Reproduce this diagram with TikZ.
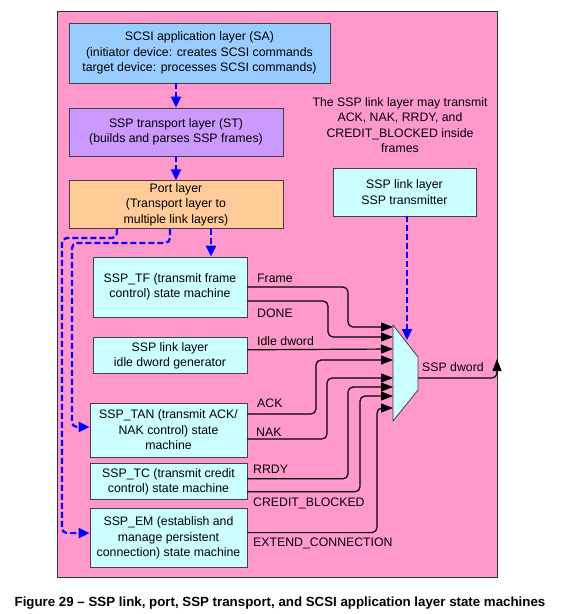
\documentclass[tikz,border=0pt]{standalone}
\usepackage{fontspec}
\setmainfont{Liberation Sans}
\usetikzlibrary{positioning,arrows.meta}
\definecolor{panelpink}{HTML}{FF99CC}
\definecolor{saBlue}{HTML}{99CCFF}
\definecolor{stPurple}{HTML}{CC99FF}
\definecolor{portOrange}{HTML}{FFCC99}
\definecolor{smCyan}{HTML}{CCFFFF}

\begin{document}
\begin{tikzpicture}[x=1pt,y=-1pt,
    box/.style={draw=black!75,line width=0.8pt,inner sep=0pt,align=center,
                font=\fontsize{12.3}{15.5}\selectfont},
    feed/.style={line width=1.2pt,rounded corners=5pt,-{Triangle[length=12pt,width=9pt]}},
    ctl/.style={blue,line width=2.2pt,dash pattern=on 6pt off 3pt,rounded corners=5pt,
                -{Triangle[length=11pt,width=10pt]}},
    lbl/.style={anchor=west,inner sep=0pt,font=\fontsize{12.3}{14}\selectfont}]
    \useasboundingbox (0,0) rectangle (565,614);
    \draw[fill=panelpink,draw=black!80,line width=0.8pt] (57,11) rectangle (497,577);

    % layers
    \node[box,fill=saBlue,minimum width=261,minimum height=60] (sa) at (199.5,53)
        {SCSI application layer (SA)\\(initiator device: creates SCSI commands\\target device: processes SCSI commands)};
    \node[box,fill=stPurple,minimum width=214,minimum height=48] (st) at (176,132)
        {SSP transport layer (ST)\\(builds and parses SSP frames)};
    \node[box,fill=portOrange,minimum width=214,minimum height=48,below=24pt of st] (port)
        {Port layer\\(Transport layer to\\multiple link layers)};

    % link layer state machines
    \node[box,fill=smCyan,minimum width=154,minimum height=60] (tf) at (170,287)
        {SSP\_TF (transmit frame\\control) state machine};
    \node[box,fill=smCyan,minimum width=154,minimum height=36,below=20pt of tf] (idle)
        {SSP link layer\\idle dword generator};
    \node[box,fill=smCyan,minimum width=157,minimum height=54] (tan) at (168.5,430)
        {SSP\_TAN (transmit ACK/\\NAK control) state\\machine};
    \node[box,fill=smCyan,minimum width=157,minimum height=36,below=6pt of tan] (tc)
        {SSP\_TC (transmit credit\\control) state machine};
    \node[box,fill=smCyan,minimum width=157,minimum height=59,below=8pt of tc] (em)
        {SSP\_EM (establish and\\manage persistent\\connection) state machine};
    \node[box,fill=smCyan,minimum width=143,minimum height=48] (tx) at (404.5,192)
        {SSP link layer\\SSP transmitter};
    \node[align=center,inner sep=0pt,font=\fontsize{12.3}{15.5}\selectfont] (note) at (400,125)
        {The SSP link layer may transmit\\ACK, NAK, RRDY, and\\CREDIT\_BLOCKED inside\\frames};

    % multiplexer
    \draw[fill=smCyan,draw=black!75,line width=0.8pt] (393,325) -- (418,357) -- (418,390) -- (393,421) -- cycle;
    \coordinate (m1) at (393,327);
    \coordinate (m2) at (393,337);
    \coordinate (m3) at (393,349);
    \coordinate (m4) at (393,360);
    \coordinate (m5) at (393,378);
    \coordinate (m6) at (393,387);
    \coordinate (m7) at (393,396);
    \coordinate (m8) at (393,408);
    \coordinate (mtop) at (407,340);
    \coordinate (mout) at (418,378);
    \coordinate (dwordtip) at (497,359);

    % dword inputs
    \draw[feed] (tf.east) -| ([xshift=-45]m1) -- (m1);
    \draw[feed] ([yshift=-14]tf.east) -| ([xshift=-65]m2) -- (m2);
    \draw[feed] ([yshift=6]idle.east) -- (m3);
    \draw[feed] ([yshift=16]tan.east) -| ([xshift=-77]m4) -- (m4);
    \draw[feed] ([yshift=-9]tan.east) -| ([xshift=-66]m5) -- (m5);
    \draw[feed] ([yshift=3]tc.east) -| ([xshift=-45]m6) -- (m6);
    \draw[feed] ([yshift=-10]tc.east) -| ([xshift=-33]m7) -- (m7);
    \draw[feed] ([yshift=5.5]em.east) -| ([xshift=-16]m8) -- (m8);
    \draw[feed] (mout) -| (dwordtip);

    \node[lbl] (lframe) at (257,278) {Frame};
    \node[lbl] (ldone) at (257,313) {DONE};
    \node[lbl] (lidle) at (257,341) {Idle dword};
    \node[lbl] (lack) at (257,403) {ACK};
    \node[lbl] (lnak) at (256,432) {NAK};
    \node[lbl] (lrrdy) at (253,469) {RRDY};
    \node[lbl] (lcredit) at (253,503) {CREDIT\_BLOCKED};
    \node[lbl] (lextend) at (253,543) {EXTEND\_CONNECTION};
    \node[lbl] (ldword) at (422,367) {SSP dword};

    % control paths
    \coordinate (lane1) at (62,238);
    \coordinate (lane2) at (72,243);
    \draw[ctl] (st.north |- sa.south) -- (st.north);
    \draw[ctl] (st.south) -- (port.north);
    \draw[ctl] ([xshift=35]port.south) -- ([xshift=35]port.south |- tf.north);
    \draw[ctl] ([xshift=-6]port.south) |- (lane2) |- ([yshift=3]tan.west);
    \draw[ctl] ([xshift=-59]port.south) |- (lane1) |- ([yshift=5]em.west);
    \draw[ctl] ([xshift=2.5]tx.south) -- (mtop);

    \node[font=\bfseries\fontsize{13.3}{15}\selectfont,inner sep=0pt] (caption) at (280,603)
        {Figure 29 – SSP link, port, SSP transport, and SCSI application layer state machines};
\end{tikzpicture}
\end{document}
